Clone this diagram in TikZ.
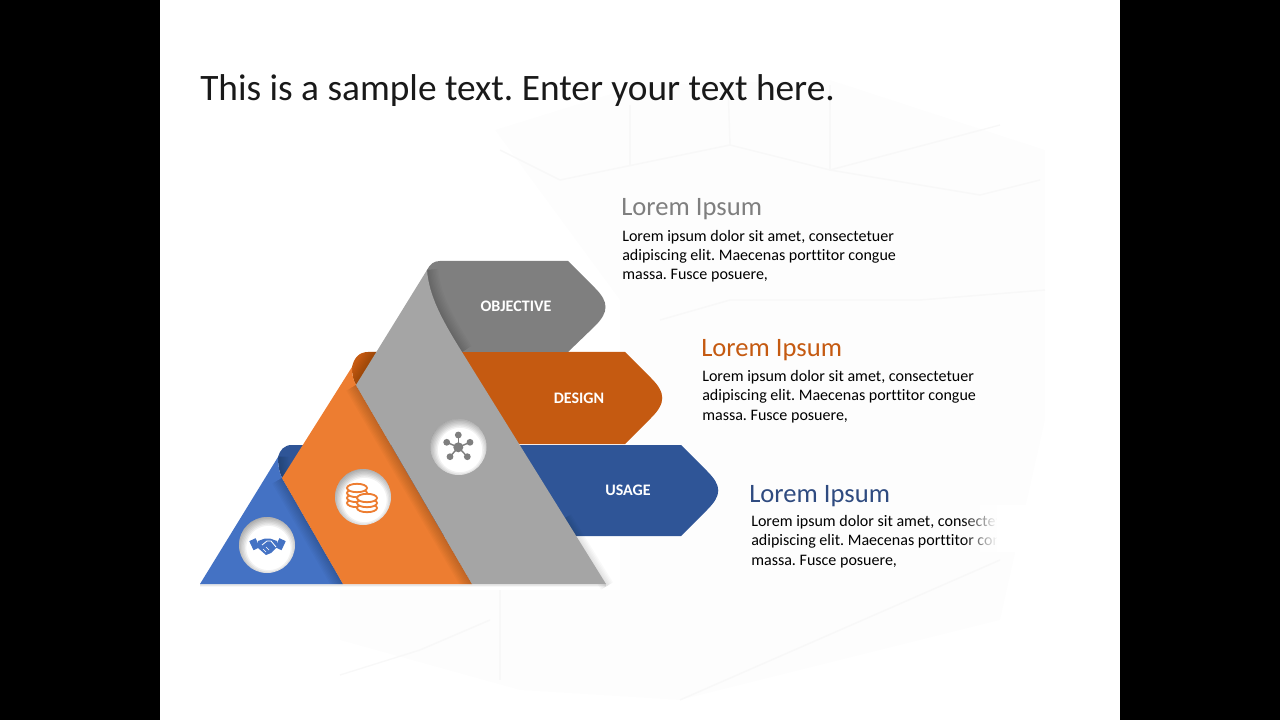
\documentclass[tikz,border=0pt]{standalone}
\usepackage{fontspec}
\setmainfont{Carlito}[Ligatures=NoCommon]
\usetikzlibrary{fadings}
\definecolor{grayband}{HTML}{A5A5A5}
\definecolor{grayflag}{HTML}{7F7F7F}
\definecolor{orangeband}{HTML}{ED7D31}
\definecolor{orangeflag}{HTML}{C55A11}
\definecolor{blueband}{HTML}{4472C4}
\definecolor{blueflag}{HTML}{2F5597}
\definecolor{bluehead}{HTML}{2F4B80}
\definecolor{cubeface}{HTML}{FDFDFD}
\definecolor{cubeedge}{HTML}{F8F8F8}
\tikzset{
    heading/.style={anchor=base west, inner sep=0pt, font=\fontsize{18.9pt}{22pt}\selectfont\frenchspacing},
    bodytext/.style={anchor=base west, inner sep=0pt, text=black, font=\fontsize{11.4pt}{14pt}\selectfont\frenchspacing},
    flaglabel/.style={text=white, inner sep=0pt, font=\fontsize{11.4pt}{14pt}\selectfont\bfseries},
    hole/.style={fill=white},
    cubeline/.style={cubeedge, line width=1pt}
}
% band and flag outlines
\def\pathgrayband{(356,385) -- (427,270) .. controls (429,296) and (442,320) .. (462,352) -- (606,584) -- (472,584) -- cycle}
\def\pathorangeband{(352,367) .. controls (352,375) and (353,380) .. (356,385) -- (472,584) -- (343,584) -- (282,478) -- cycle}
\def\pathblueband{(278,457) .. controls (278,465) and (279,472) .. (282,478) -- (343,584) -- (200,584) -- cycle}
\def\pathgrayflag{(427,270) .. controls (430,264) and (434,261) .. (440,261) -- (568,261) -- (595,288) .. controls (609,302) and (609,312) .. (595,326) -- (568,352) -- (462,352) -- (420,340) -- cycle}
\def\pathorangeflag{(352,367) .. controls (354,358) and (359,352) .. (368,352) -- (625,352) -- (651,378) .. controls (666,393) and (666,403) .. (651,418) -- (625,444) -- (500,444) -- (356,385) .. controls (353,380) and (352,375) .. (352,367) -- cycle}
\def\pathblueflag{(278,457) .. controls (280,450) and (284,445) .. (292,445) -- (681,445) -- (707,471) .. controls (722,486) and (722,495) .. (707,510) -- (681,536) -- (400,536) -- (282,478) .. controls (279,472) and (278,465) .. (278,457) -- cycle}
\newcommand{\foldshade}[2]{%
    \begin{scope}
        \clip #1;
        \foreach \w in {2,4,...,16} \draw[black, opacity=0.022, line width=\w pt] #2;
    \end{scope}}
\newcommand{\holeat}[2]{%
    \fill[hole] (#1,#2) circle (28);
    \begin{scope}
        \clip (#1,#2) circle (28);
        \foreach \w in {2,4,...,14} \draw[black, opacity=0.055, line width=\w pt] (#1+1.5,#2+3) circle (32);
    \end{scope}}
\begin{document}
\begin{tikzpicture}[x=0.025cm, y=-0.025cm]
    \useasboundingbox (0,0) rectangle (1280,720);
    \fill[black] (0,0) rectangle (160,720);
    \fill[black] (1120,0) rectangle (1280,720);

    % faint cubes behind the text
    \fill[cubeface] (495,130) -- (640,85) -- (830,80) -- (1045,150) -- (1045,420) -- (1000,620) -- (680,700) -- (520,690) -- (340,640) -- (340,590) -- (620,590) -- (620,300) -- cycle;
    \draw[cubeline] (500,150) -- (560,180) -- (730,145) -- (830,170) -- (1000,125);
    \draw[cubeline] (830,170) -- (980,195) -- (1040,180);
    \draw[cubeline] (730,145) -- (728,85);
    \draw[cubeline] (830,170) -- (830,85);
    \draw[cubeline] (630,165) -- (630,105);
    \draw[cubeline] (660,320) -- (730,300) -- (920,300) -- (1045,290);
    \draw[cubeline] (680,700) -- (1000,560);
    \draw[cubeline] (340,675) -- (420,650) -- (490,620);
    \draw[cubeline] (500,590) -- (500,680);

    \node[anchor=base west, inner sep=0pt, text=black!90, font=\fontsize{26.55pt}{32pt}\selectfont\frenchspacing] (title) at (200,101) {This is a sample text. Enter your text here.};

    \fill[blueflag] \pathblueflag;
    \foldshade{\pathblueflag}{(278,457) .. controls (278,465) and (279,472) .. (282,478) -- (300,510)};
    \fill[orangeflag] \pathorangeflag;
    \foldshade{\pathorangeflag}{(356,385) -- (427,270)};
    \fill[grayflag] \pathgrayflag;
    \foldshade{\pathgrayflag}{(427,270) .. controls (429,296) and (442,320) .. (462,352)};

    % soft shadow below the bands
    \foreach \w in {2,4,...,10} \draw[black, opacity=0.025, line width=\w pt] (565,518) -- (607,586);
    \foreach \w in {1,2,3} \draw[black, opacity=0.03, line width=\w pt] (200,585) -- (606,585);

    \fill[blueband] \pathblueband;
    \fill[orangeband] \pathorangeband;
    \foldshade{\pathblueband}{(282,478) -- (343,584)};
    \fill[grayband] \pathgrayband;
    \foldshade{\pathorangeband}{(356,385) -- (472,584)};

    \holeat{267}{545}
    \holeat{363}{497}
    \holeat{458.5}{447}

    % handshake
    \fill[blueband, rotate around={25:(255,544)}] (251,539) rectangle (258,549);
    \fill[blueband, rotate around={-25:(280,544)}] (277,539) rectangle (284,549);
    \fill[blueband] (258,541) -- (265,538.5) -- (270,538.5) -- (277,541) -- (277,547) -- (271,553) -- (266,555) -- (258,548) -- cycle;
    \draw[white, line width=0.6pt, line join=round] (262,545) -- (267,541) -- (271,541) -- (276,547);
    \draw[white, line width=0.5pt] (263,549) -- (266,552);
    \draw[white, line width=0.5pt] (266,547) -- (269,550);

    % coins
    \foreach \cy in {503,498,493,488}
        \draw[orangeband, line width=1.3pt, fill=white] (357,\cy) ellipse (10 and 4.2);
    \foreach \cy in {508,503,498}
        \draw[orangeband, line width=1.3pt, fill=white] (367,\cy) ellipse (10 and 4.2);

    % network
    \foreach \nx/\ny in {458.3/435, 446.7/442.3, 470/442.3, 450/456.7, 467.3/456.7} {
        \draw[grayflag, line width=1pt] (458.3,447.3) -- (\nx,\ny);
        \fill[grayflag] (\nx,\ny) circle (3.4);
    }
    \fill[grayflag] (458.3,447.3) circle (5);

    \node[flaglabel] (objective) at (516,306.5) {OBJECTIVE};
    \node[flaglabel] (design) at (579,398.5) {DESIGN};
    \node[flaglabel] (usage) at (628,490.5) {USAGE};

    \node[heading, text=grayflag] (headone) at (621,216) {Lorem Ipsum};
    \node[bodytext] (bodyonea) at (622,242) {Lorem ipsum dolor sit amet, consectetuer};
    \node[bodytext] (bodyoneb) at (622,261) {adipiscing elit. Maecenas porttitor congue};
    \node[bodytext] (bodyonec) at (622,280) {massa. Fusce posuere,};

    \node[heading, text=orangeflag] (headtwo) at (701,357) {Lorem Ipsum};
    \node[bodytext] (bodytwoa) at (702,382) {Lorem ipsum dolor sit amet, consectetuer};
    \node[bodytext] (bodytwob) at (702,401) {adipiscing elit. Maecenas porttitor congue};
    \node[bodytext] (bodytwoc) at (702,420.5) {massa. Fusce posuere,};

    \node[heading, text=bluehead] (headthree) at (749,502) {Lorem Ipsum};
    \node[bodytext] (bodythreea) at (751,526.5) {Lorem ipsum dolor sit amet, consectetuer};
    \node[bodytext] (bodythreeb) at (751,545.5) {adipiscing elit. Maecenas porttitor congue};
    \node[bodytext] (bodythreec) at (751,565.5) {massa. Fusce posuere,};

    % text runs out under a white edge
    \fill[white, path fading=west] (962,505) rectangle (997,552);
    \fill[white] (996.5,505) rectangle (1060,552);
\end{tikzpicture}
\end{document}
